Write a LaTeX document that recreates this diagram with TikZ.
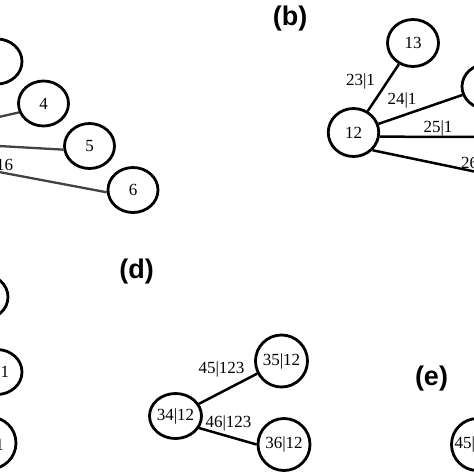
\documentclass[tikz,border=0pt]{standalone}
\usepackage{fontspec}
\setmainfont{Liberation Serif}
\newfontfamily\panelfont{Liberation Sans}
\usetikzlibrary{shapes.geometric}
\definecolor{edgegray}{RGB}{66,66,66}
\begin{document}
\begin{tikzpicture}[x=1pt,y=-1pt,
  vtx/.style={ellipse, draw=black, line width=2.8pt, minimum width=50pt, minimum height=45pt, inner sep=0pt, font=\fontsize{17}{17}\selectfont},
  lbl/.style={inner sep=0pt, font=\fontsize{17}{17}\selectfont},
  panel/.style={inner sep=0pt, font=\panelfont\bfseries\fontsize{27}{27}\selectfont},
  edgeA/.style={draw=edgegray, line width=2.3pt},
  edgeB/.style={draw=black, line width=2.5pt}]
\useasboundingbox (0,0) rectangle (474,474);
\clip (0,0) rectangle (474,474);
% ---- panel (a)
\node[vtx] (a3) at (-3,61.5) {};
\node[vtx] (a4) at (43.5,103.5) {4};
\node[vtx] (a5) at (89.5,146) {5};
\node[vtx] (a6) at (133,190) {6};
\coordinate (c4) at (-10,119);
\coordinate (c5) at (-10,145.5);
\coordinate (c6) at (-10,170.3);
\draw[edgeA] (c4) -- (a4.200);
\draw[edgeA] (c5) -- (a5.188);
\draw[edgeA] (c6) -- (a6.185);
\node[lbl] (l16) at (4.5,164.5) {16};
% ---- panel (b)
\node[panel] (pb) at (290,18.5) {(b)};
\node[vtx, minimum width=51pt, minimum height=47pt] (b13) at (413,43) {13};
\node[vtx, minimum width=50.5pt, minimum height=48pt] (b12) at (353.5,132.5) {12};
\node[vtx] (b14) at (487,86.5) {};
\node[vtx] (b15) at (505,137) {};
\node[vtx] (b16) at (556,183) {};
\draw[edgeB] (b12) -- (b13);
\draw[edgeB] (b12) -- (b14);
\draw[edgeB] (b12.-9) -- (b15.west);
\draw[edgeB] (b12.-43) -- (b16.west);
\node[lbl] (l23) at (360.5,81) {23|1};
\node[lbl] (l24) at (402,100) {24|1};
\node[lbl] (l25) at (438,128) {25|1};
\node[lbl] (l26) at (475.5,164) {26|1};
% ---- panel (c)
\node[vtx] (c1) at (-17,297) {};
\node[vtx] (c2) at (-3,372) {};
\node[lbl] (c2t) at (5,372) {1};
\node[vtx, minimum width=52pt, minimum height=52pt] (c3) at (-10,443) {};
\node[lbl] (c3t) at (-0.5,445) {1};
% ---- panel (d)
\node[panel] (pd) at (136.5,271.5) {(d)};
\node[vtx, minimum width=52pt, minimum height=45pt] (d34) at (175.5,416) {\makebox[36pt]{34|12}};
\node[vtx, minimum width=52pt, minimum height=52pt] (d35) at (281.5,361) {\makebox[36pt]{35|12}};
\node[vtx, minimum width=52pt, minimum height=52pt] (d36) at (284,444.5) {\makebox[36pt]{36|12}};
\draw[edgeB] (d34) -- (d35);
\draw[edgeB] (d34.-27) -- (d36.west);
\node[lbl] (l45) at (221.5,369) {45|123};
\node[lbl] (l46) at (228.5,423.5) {46|123};
% ---- panel (e)
\node[panel] (pe) at (431.5,379) {(e)};
\node[vtx, minimum width=52pt, minimum height=52pt] (e45) at (477.5,444.5) {\makebox[36pt]{45|123}};
\end{tikzpicture}
\end{document}
